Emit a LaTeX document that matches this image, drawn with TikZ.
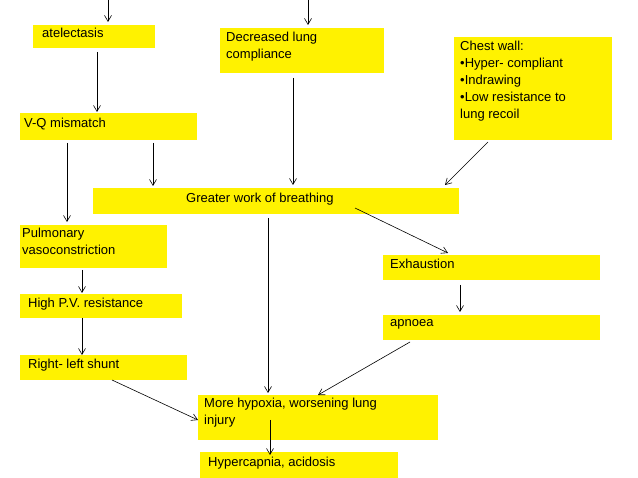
\documentclass[tikz,border=0pt]{standalone}
\usepackage{fontspec}
\setmainfont{Liberation Sans}
\usetikzlibrary{arrows.meta}
\begin{document}
\begin{tikzpicture}[x=1pt,y=-1pt,
  box/.style={fill=yellow,draw=none,inner sep=0pt,align=left,anchor=north west,font=\fontsize{13}{17}\selectfont},
  arr/.style={-{Straight Barb[length=6pt,width=7pt]},line width=0.6pt}]
\useasboundingbox (0,0) rectangle (638,478);
\fill[yellow] (33,25) rectangle (155,48);
\node[box] (a) at (42,28) {atelectasis};
\fill[yellow] (220,28) rectangle (384,73);
\node[box] (d) at (226,32) {Decreased lung\\compliance};
\fill[yellow] (454,37) rectangle (612,140);
\node[box] (c) at (460,41) {Chest wall:\\•Hyper- compliant\\•Indrawing\\•Low resistance to\\lung recoil};
\fill[yellow] (20,113) rectangle (197,140);
\node[box] (v) at (24,118) {V-Q mismatch};
\fill[yellow] (93,188) rectangle (459,214);
\node[box] (g) at (186,193) {Greater work of breathing};
\fill[yellow] (20,225) rectangle (167,268);
\node[box] (p) at (22,228) {Pulmonary\\vasoconstriction};
\fill[yellow] (383,255) rectangle (600,280);
\node[box] (e) at (390,259) {Exhaustion};
\fill[yellow] (20,294) rectangle (182,318);
\node[box] (h) at (28,298) {High P.V. resistance};
\fill[yellow] (383,315) rectangle (600,340);
\node[box] (ap) at (390,319) {apnoea};
\fill[yellow] (20,355) rectangle (187,380);
\node[box] (r) at (28,359) {Right- left shunt};
\fill[yellow] (198,395) rectangle (438,440);
\node[box] (m) at (204,398) {More hypoxia, worsening lung\\injury};
\fill[yellow] (200,452) rectangle (398,478);
\node[box] (hc) at (208,457) {Hypercapnia, acidosis};
\coordinate (t1) at (108,0); \coordinate (t1e) at (108,22);
\coordinate (t2) at (308,0); \coordinate (t2e) at (308,25);
\draw[arr] (t1) -- (t1e);
\draw[arr] (t2) -- (t2e);
\draw[arr] (97,52) -- (97,112);
\draw[arr] (293,78) -- (293,185);
\draw[arr] (488,142) -- (445,185);
\draw[arr] (67,143) -- (67,222);
\draw[arr] (153,143) -- (153,186);
\draw[arr] (355,208) -- (448,253);
\draw[arr] (268,218) -- (268,393);
\draw[arr] (82,270) -- (82,293);
\draw[arr] (82,318) -- (82,355);
\draw[arr] (460,285) -- (460,312);
\draw[arr] (410,342) -- (318,395);
\draw[arr] (112,380) -- (198,420);
\draw[arr] (270,420) -- (270,455);
\end{tikzpicture}
\end{document}
